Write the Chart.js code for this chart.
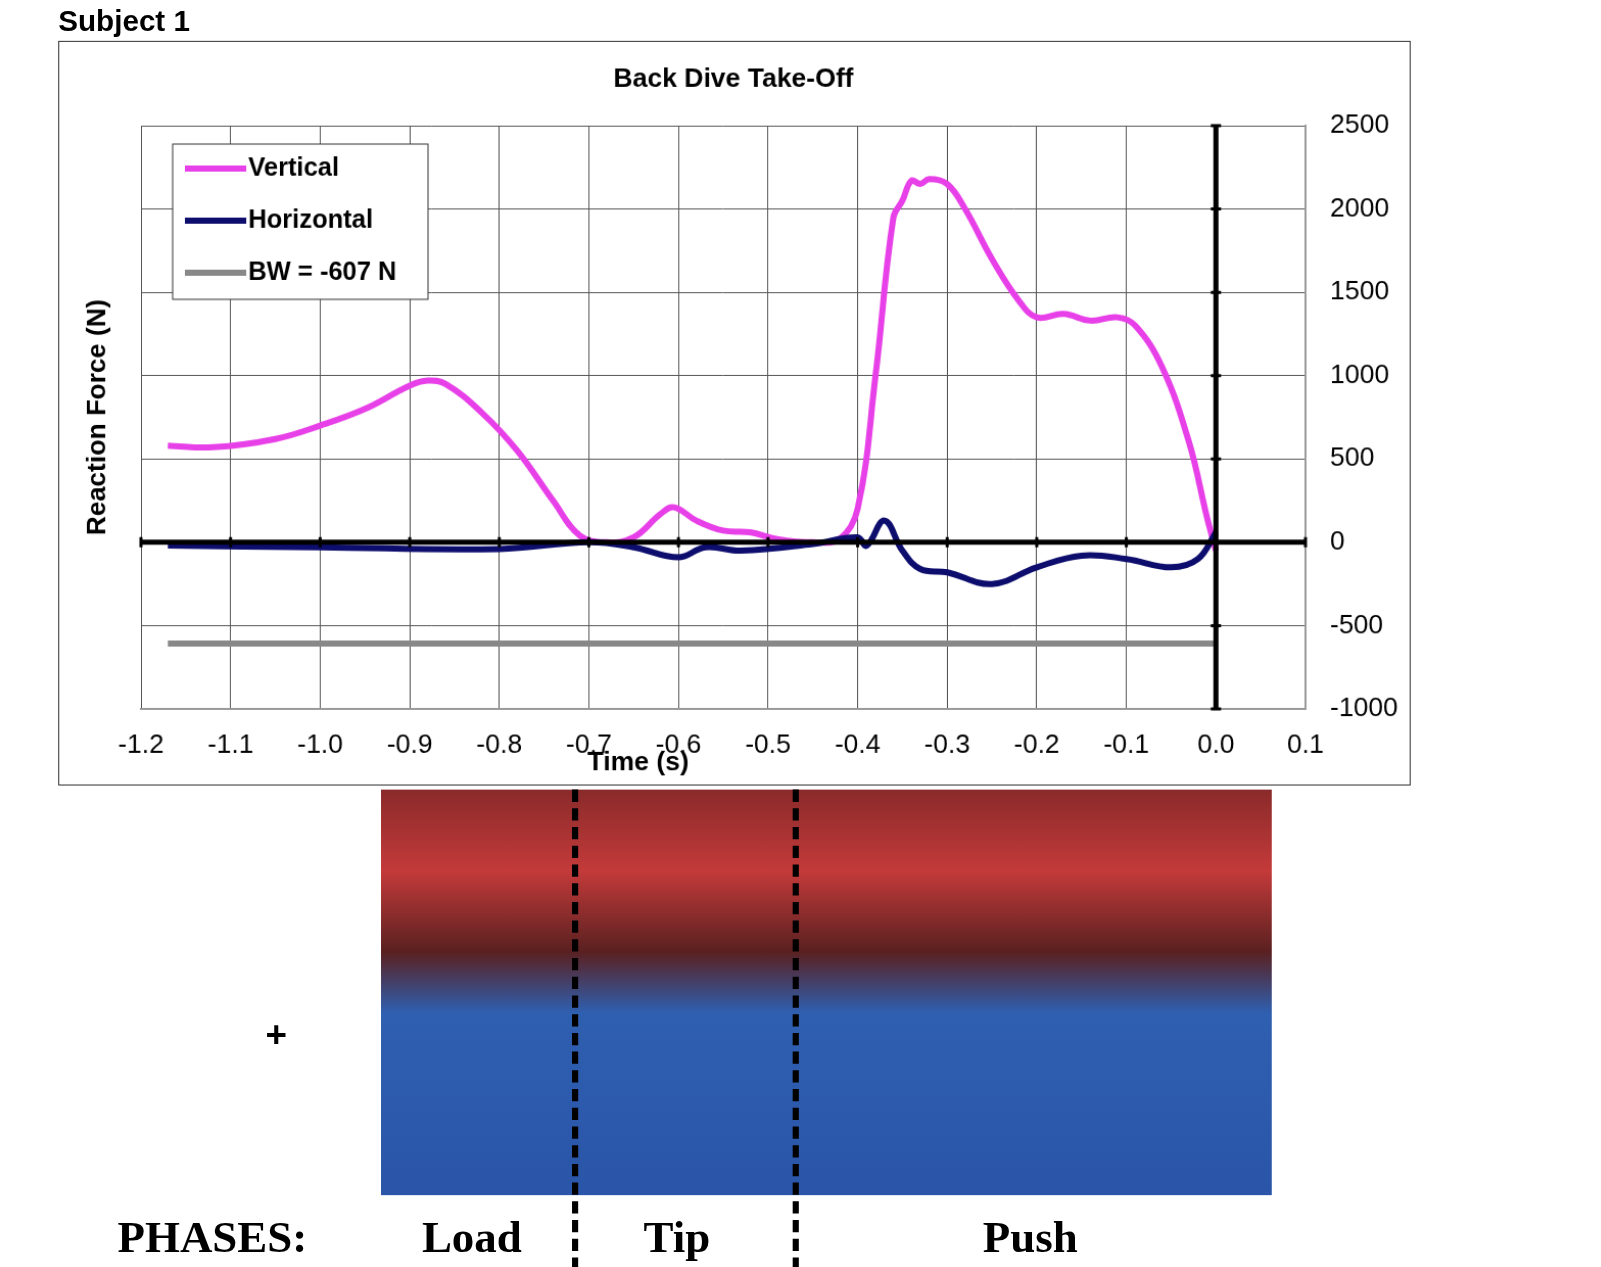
<!DOCTYPE html>
<html><head><meta charset="utf-8">
<script src="https://cdn.jsdelivr.net/npm/chart.js@4.4.0/dist/chart.umd.min.js"></script>
<style>
body{margin:0;background:#fff;font-family:Arial,"Liberation Sans",sans-serif;overflow:hidden;}
#wrap{position:relative;width:1601px;height:1267px;transform:scale(1.0215);transform-origin:0 0;}
#box{position:absolute;left:57px;top:40px;width:1324px;height:729px;border:1px solid #333;box-sizing:border-box;}
.t{position:absolute;font-weight:bold;}
</style></head><body>
<div id="wrap">
<div class="t" style="left:57px;top:4px;font-size:29px;">Subject 1</div>
<div id="box"><canvas id="chart" width="1322" height="727"></canvas></div>
<div style="position:absolute;left:373px;top:773px;width:872px;height:397px;background:linear-gradient(#8a2a2a 0%,#c43a3a 20%,#5a2020 40%,#2f5fb0 55%,#2a55a8 100%);"></div>
<div style="position:absolute;left:560px;top:773px;height:470px;border-left:6px dashed #000;"></div>
<div style="position:absolute;left:776px;top:773px;height:470px;border-left:6px dashed #000;"></div>
<div class="t" style="left:115px;top:1186px;font-size:44px;font-family:'Liberation Serif',serif;">PHASES:</div>
<div class="t" style="left:413px;top:1186px;font-size:44px;font-family:'Liberation Serif',serif;">Load</div>
<div class="t" style="left:630px;top:1186px;font-size:44px;font-family:'Liberation Serif',serif;">Tip</div>
<div class="t" style="left:962px;top:1186px;font-size:44px;font-family:'Liberation Serif',serif;">Push</div>
<div class="t" style="left:260px;top:992px;font-size:36px;">+</div>
</div>
<script>
const vertT=[-1.17,-1.12,-1.05,-1.0,-0.95,-0.9,-0.88,-0.86,-0.82,-0.78,-0.74,-0.71,-0.68,-0.65,-0.62,-0.605,-0.58,-0.55,-0.52,-0.49,-0.45,-0.42,-0.40,-0.38,-0.36,-0.35,-0.34,-0.33,-0.32,-0.30,-0.28,-0.25,-0.22,-0.2,-0.17,-0.14,-0.11,-0.09,-0.06,-0.03,-0.01,0.0];
const vertF=[580,570,620,700,800,940,970,950,780,550,250,40,0,30,170,210,130,70,60,20,0,20,200,1000,1950,2050,2170,2150,2180,2150,2000,1700,1450,1350,1370,1330,1350,1300,1050,600,150,-50];
const horT=[-1.17,-1.0,-0.8,-0.7,-0.65,-0.6,-0.57,-0.53,-0.45,-0.4,-0.39,-0.37,-0.35,-0.33,-0.3,-0.25,-0.2,-0.15,-0.1,-0.05,-0.02,0.0];
const horF=[-20,-30,-40,0,-30,-90,-30,-50,-10,30,-20,130,-50,-160,-180,-250,-150,-80,-100,-150,-100,60];
const bwT=[-1.17,0.0];
const bwF=[-607,-607];
const pts=(t,f)=>t.map((x,i)=>({x:x,y:f[i]}));

const extras={id:'extras',afterDatasetsDraw(c){
  const g=c.ctx,a=c.chartArea,x=c.scales.x,y=c.scales.y;
  g.save();g.strokeStyle='#000';g.lineWidth=5;
  const y0=y.getPixelForValue(0),x0=x.getPixelForValue(0);
  g.beginPath();g.moveTo(a.left,y0);g.lineTo(a.right,y0);g.moveTo(x0,a.top);g.lineTo(x0,a.bottom);g.stroke();
  g.lineWidth=3;g.beginPath();
  for(let v=-1.2;v<=0.11;v+=0.1){const p=x.getPixelForValue(v);g.moveTo(p,y0-5);g.lineTo(p,y0+5);}
  for(let v=-1000;v<=2500;v+=500){const p=y.getPixelForValue(v);g.moveTo(x0-5,p);g.lineTo(x0+5,p);}
  g.stroke();
  g.fillStyle='#000';g.font='bold 26px Arial';g.textAlign='center';
  g.fillText('Back Dive Take-Off',(a.left+a.right)/2+10,44);
  g.fillText('Time (s)',x.getPixelForValue(-0.645),713);
  g.translate(36,(a.top+a.bottom)/2);g.rotate(-Math.PI/2);g.fillText('Reaction Force (N)',0,9);
  g.restore();
  g.save();const lx=a.left+31,ly=a.top+18;
  g.fillStyle='#fff';g.strokeStyle='#333';g.lineWidth=1;g.fillRect(lx,ly,250,152);g.strokeRect(lx,ly,250,152);
  const L=[['Vertical','#e840e8'],['Horizontal','#0d0d6e'],['BW = -607 N','#888']];
  g.font='bold 25px Arial';g.textBaseline='middle';
  L.forEach((l,i)=>{const yy=ly+24+i*51;g.strokeStyle=l[1];g.lineWidth=6;g.beginPath();g.moveTo(lx+12,yy);g.lineTo(lx+72,yy);g.stroke();g.fillStyle='#000';g.fillText(l[0],lx+74,yy);});
  g.restore();
}};

new Chart(document.getElementById('chart'),{
  type:'line',
  data:{datasets:[
    {data:pts(bwT,bwF),borderColor:'#888',borderWidth:6,pointRadius:0},
    {data:pts(horT,horF),borderColor:'#0d0d6e',borderWidth:6,pointRadius:0,tension:0.4},
    {data:pts(vertT,vertF),borderColor:'#e840e8',borderWidth:6,pointRadius:0,tension:0.4}
  ]},
  options:{responsive:false,animation:false,devicePixelRatio:1,
    layout:{padding:{left:80,top:82,right:0,bottom:0}},
    plugins:{legend:{display:false},tooltip:{enabled:false}},
    scales:{
      x:{type:'linear',min:-1.2,max:0.1,border:{color:'#999',width:2},
        grid:{color:'#555',lineWidth:1,drawTicks:false},
        ticks:{stepSize:0.1,padding:20,color:'#000',font:{size:26,family:'Arial'},callback:v=>v.toFixed(1)},
        afterFit(s){s.height=74;}},
      y:{position:'right',min:-1000,max:2500,border:{color:'#999',width:2},
        grid:{color:'#555',lineWidth:1,drawTicks:false},
        ticks:{stepSize:500,padding:24,color:'#000',font:{size:26,family:'Arial'},callback:v=>String(v)},
        afterFit(s){s.width=102;}}
    }
  },
  plugins:[extras]
});
</script>
</body></html>
